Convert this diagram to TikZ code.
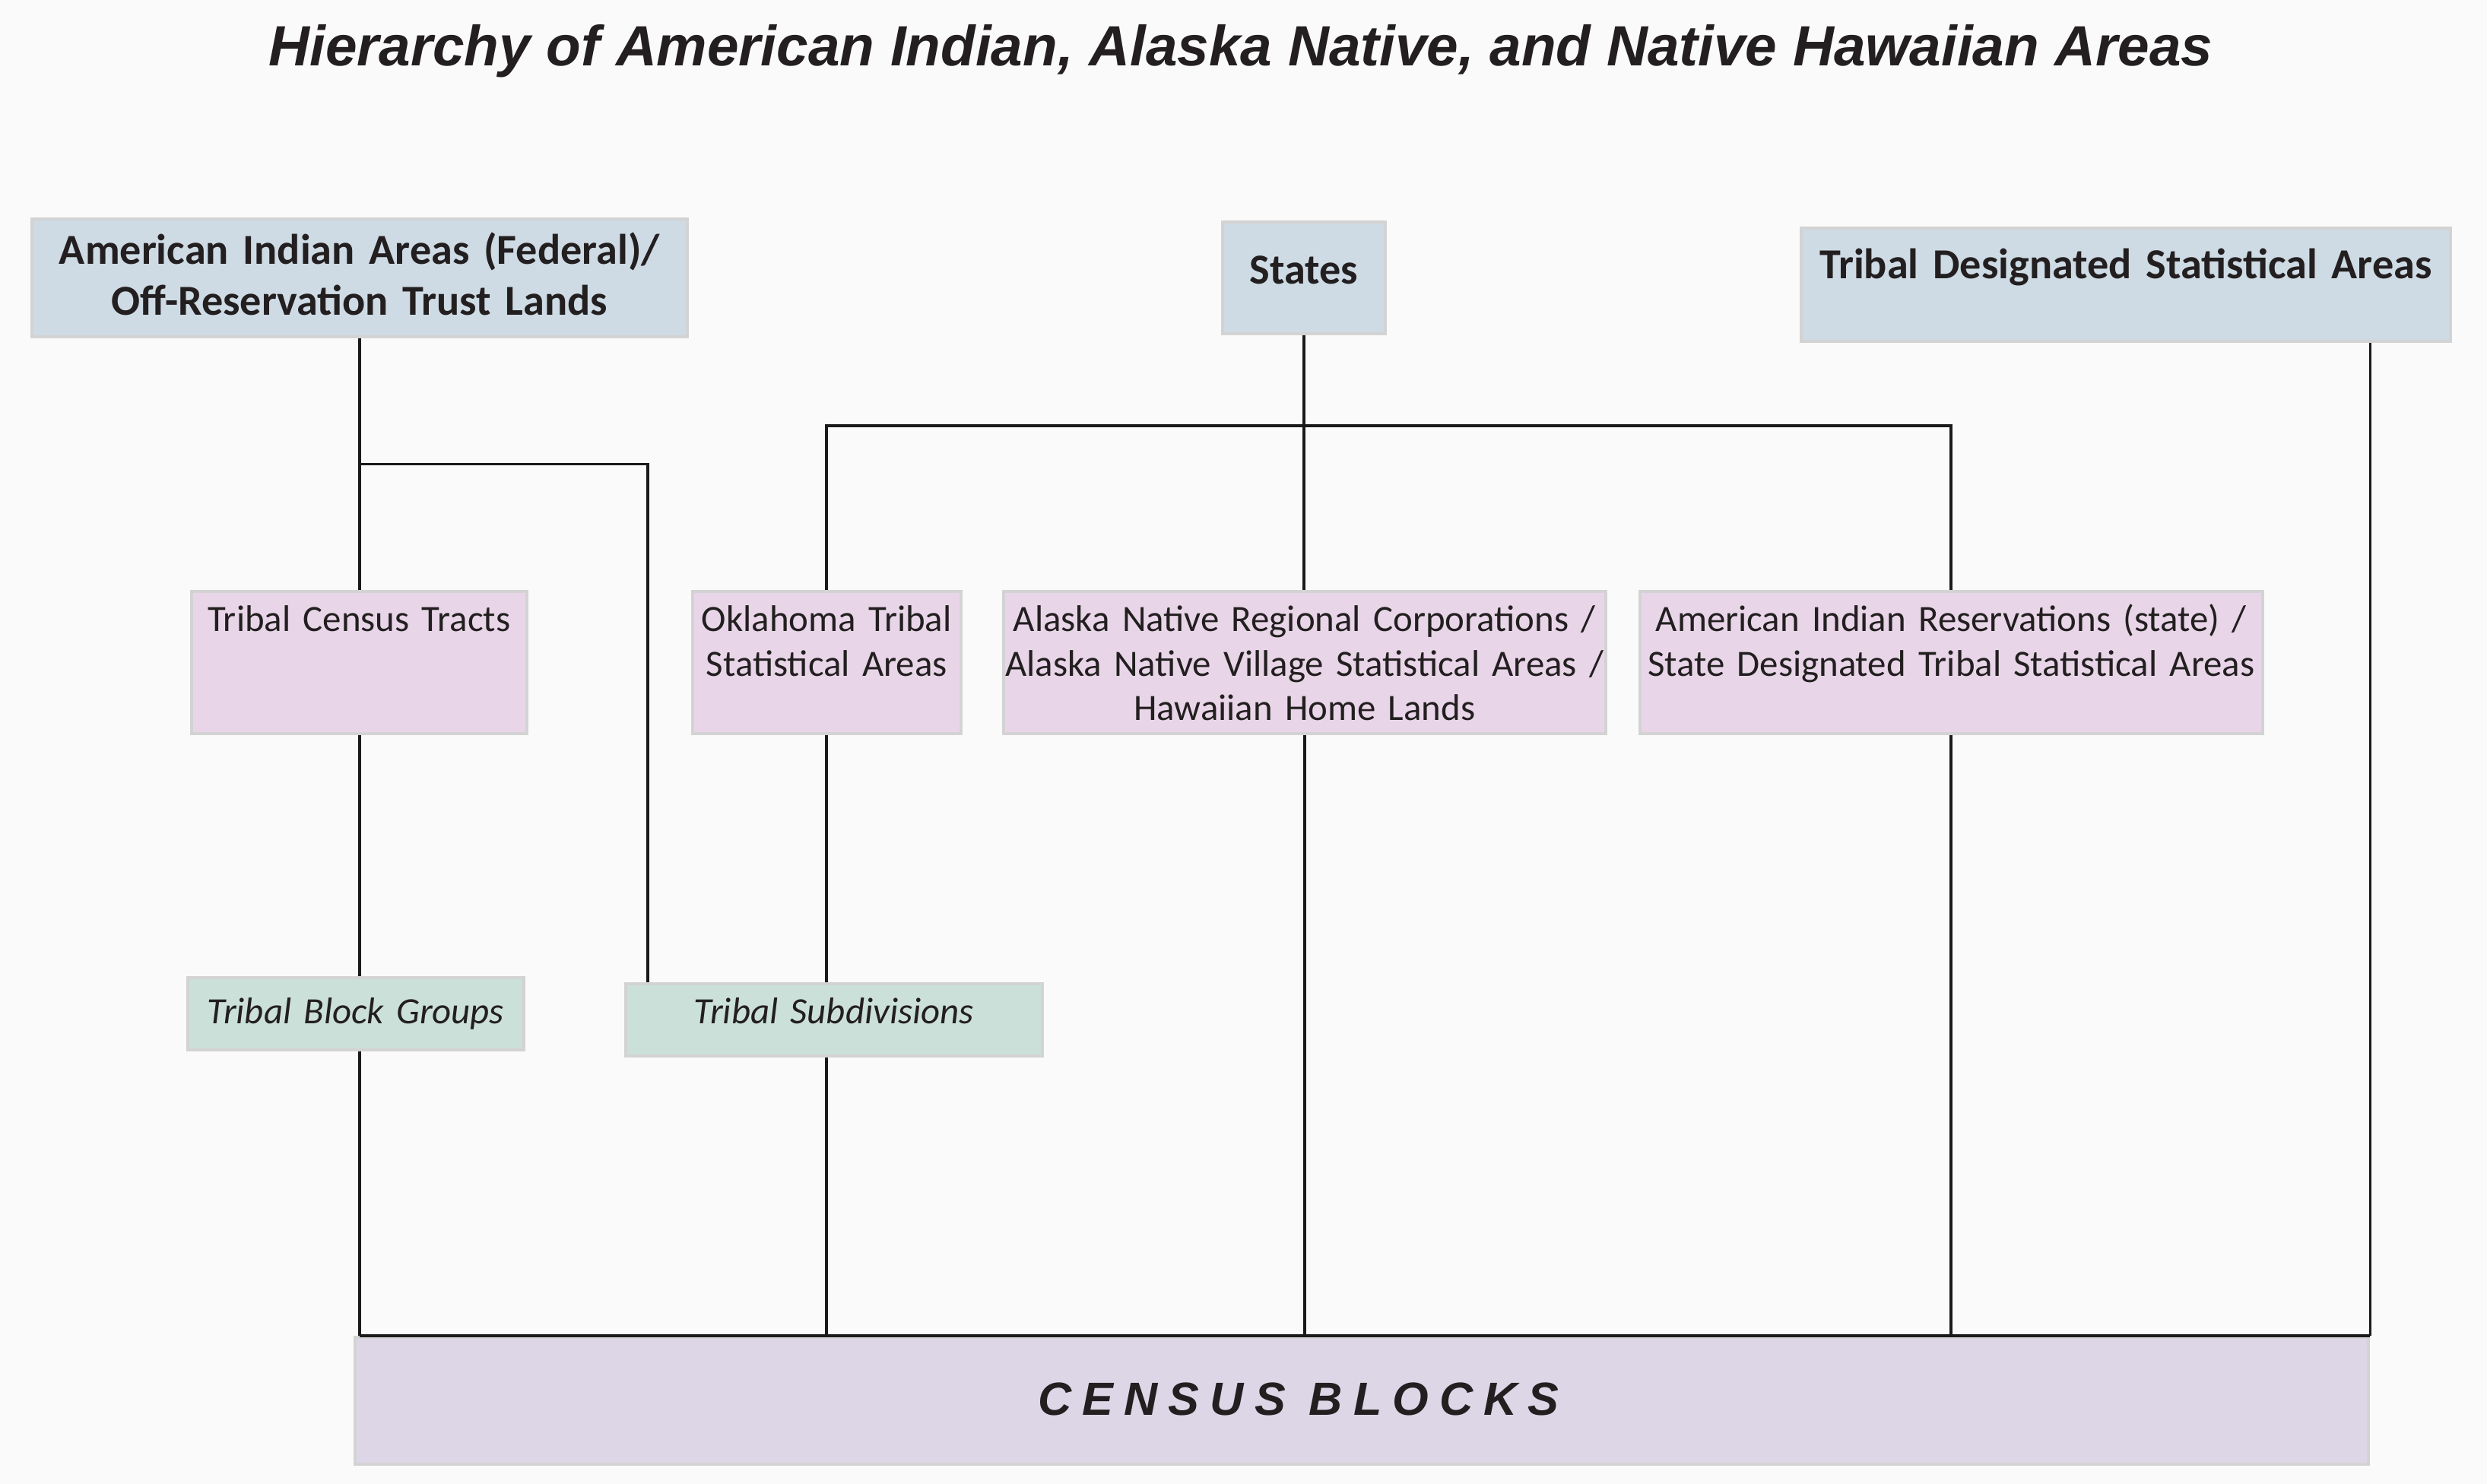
\documentclass[tikz,border=0pt]{standalone}
\usepackage{fontspec}
\setmainfont{Carlito}
\newfontfamily\titlefont{Liberation Sans}
\newfontfamily\blockfont[LetterSpace=23]{Liberation Sans}
\usetikzlibrary{calc, positioning}

\definecolor{bgGrey}{HTML}{FAFAFA}
\definecolor{edgeGrey}{HTML}{D3D3D3}
\definecolor{lineBlack}{HTML}{1A1A1A}
\definecolor{textDark}{HTML}{231F20}
\definecolor{headFill}{HTML}{CEDBE4}
\definecolor{areaFill}{HTML}{E8D6E8}
\definecolor{subFill}{HTML}{CCE0DA}
\definecolor{blockFill}{HTML}{DDD6E7}

\begin{document}
\begin{tikzpicture}[
        line width=1.1pt,
        draw=lineBlack,
        box/.style={draw=edgeGrey, line width=1pt, inner sep=0pt,
            anchor=north west, align=center, text=textDark},
        header/.style={box, fill=headFill,
            font=\fontsize{16}{19}\selectfont\bfseries},
        area/.style={box, fill=areaFill, text height=0.53cm, text depth=1.34cm,
            font=\fontsize{13.9}{16.6}\selectfont},
        subarea/.style={box, fill=subFill,
            font=\fontsize{13.9}{16.6}\selectfont\itshape},
    ]

    \def\xright{32.71}
    \def\ybottom{-19.52}

    \fill[bgGrey] (0,0) rectangle (\xright,\ybottom);
    \useasboundingbox (0,0) rectangle (\xright,\ybottom);

    \node[anchor=base, text=textDark,
        font=\titlefont\fontsize{21.25}{25}\selectfont\bfseries\itshape]
        (title) at (16.32,-0.87)
        {Hierarchy of American Indian, Alaska Native, and Native Hawaiian Areas};

    % top level
    \node[header, text width=8.62cm, text height=0.60cm, text depth=0.95cm]
        (aia) at (0.40,-2.86) {American Indian Areas (Federal)/\\Off-Reservation Trust Lands};
    \node[header, text width=2.14cm, text height=0.82cm, text depth=0.65cm]
        (states) at (16.06,-2.90) {States};
    \node[header, text width=8.54cm, text height=0.67cm, text depth=0.82cm]
        (tdsa) at (23.67,-2.98) {Tribal Designated Statistical Areas};

    % second level
    \node[area, text width=4.41cm] (tct) at (2.50,-7.76) {Tribal Census Tracts};
    \node[area, text width=3.53cm] (otsa) at (9.09,-7.76) {Oklahoma Tribal\\Statistical Areas};
    \node[area, text width=7.92cm] (anrc) at (13.18,-7.76)
        {Alaska Native Regional Corporations /\\Alaska Native Village Statistical Areas /\\Hawaiian Home Lands};
    \node[area, text width=8.19cm] (air) at (21.55,-7.76)
        {American Indian Reservations (state) /\\State Designated Tribal Statistical Areas};

    % third level
    \node[subarea, text width=4.42cm, text height=0.61cm, text depth=0.34cm]
        (tbg) at (2.45,-12.84) {Tribal Block Groups};
    \node[subarea, text width=5.48cm, text height=0.53cm, text depth=0.42cm]
        (ts) at (8.21,-12.92) {Tribal Subdivisions};

    % base
    \node[box, fill=blockFill, minimum width=26.48cm, minimum height=1.67cm]
        (census) at (4.65,-17.57) {};
    \node[anchor=base, text=textDark,
        font=\blockfont\fontsize{17.4}{20}\selectfont\bfseries\itshape]
        (blocks) at (17.08,-18.61) {CENSUS BLOCKS};

    \coordinate (aiaFork) at ($(aia.south)+(0,-1.66)$);
    \coordinate (tsIn) at (8.52,-12.92);
    \coordinate (bar) at (0,-5.60);
    \coordinate (tdsaOut) at ($(tdsa.south east)+(-1.07,0)$);

    \draw (aia.south) -- (aia.south |- tct.north);
    \draw (aiaFork) -| (tsIn);
    \draw (aia.south |- tct.south) -- (aia.south |- tbg.north);
    \draw (aia.south |- tbg.south) -- (aia.south |- census.north);

    \draw (states.south) -- (states.south |- anrc.north);
    \draw (otsa.north) -- (otsa.north |- bar) -- (air.north |- bar) -- (air.north);
    \draw (otsa.south) -- (otsa.south |- ts.north);
    \draw (otsa.south |- ts.south) -- (otsa.south |- census.north);
    \draw (anrc.south) -- (anrc.south |- census.north);
    \draw (air.south) -- (air.south |- census.north);
    \draw (tdsaOut) -- (tdsaOut |- census.north);

    \draw (aia.south |- census.north) -- (census.north east);

\end{tikzpicture}
\end{document}
